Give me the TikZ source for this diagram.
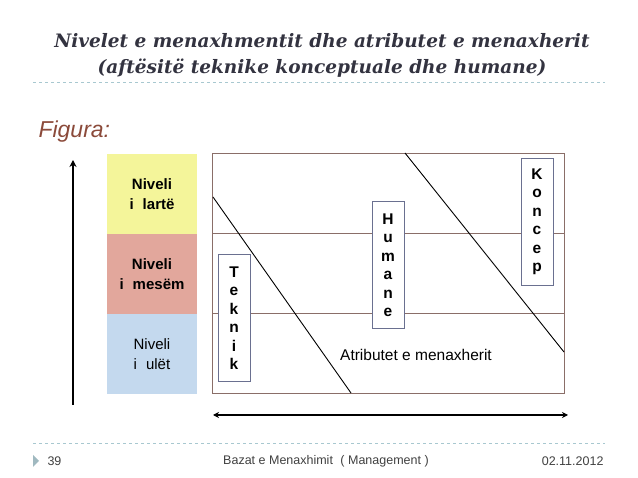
\documentclass[tikz,border=0pt]{standalone}
\usepackage{fontspec}
\setmainfont{Liberation Sans}
\newfontfamily\titlefont{DejaVu Serif}
\usetikzlibrary{arrows.meta}
\definecolor{titlec}{HTML}{333340}
\definecolor{figc}{HTML}{8B4A3A}
\definecolor{framec}{HTML}{8A6E68}
\definecolor{boxc}{HTML}{6A7090}
\definecolor{yel}{HTML}{F4F59A}
\definecolor{red}{HTML}{E2A79C}
\definecolor{blu}{HTML}{C4D9EE}
\definecolor{dashc}{HTML}{A8C8D0}
\tikzset{
 lvl/.style={minimum width=90pt,minimum height=80pt,inner sep=0pt,align=center,font=\fontsize{15}{20}\selectfont},
 vbox/.style={draw=boxc,line width=1pt,fill=white,minimum width=32pt,minimum height=127pt,inner sep=0pt,align=center,font=\bfseries\fontsize{15.5}{18.5}\selectfont},
 sep/.style={dashc,dashed,line width=0.6pt},
}
\begin{document}
\begin{tikzpicture}[x=1pt,y=-1pt]
\useasboundingbox (0,0) rectangle (638,478);
\node[font=\titlefont\bfseries\itshape\fontsize{18.5}{26}\selectfont,text=titlec,align=center] (title) at (322,55) {Nivelet e menaxhmentit dhe atributet e menaxherit\\(aftësitë teknike konceptuale dhe humane)};
\draw[sep] (33,82) -- (605,82);
\node[anchor=west,font=\itshape\fontsize{23}{26}\selectfont,text=figc] (fig) at (35,132) {Figura:};
\node[lvl,fill=yel,font=\bfseries\fontsize{15}{20}\selectfont] (l1) at (152,194) {Niveli\\i\hspace{0.6em}lartë};
\node[lvl,fill=red,font=\bfseries\fontsize{15}{20}\selectfont] (l2) at (152,274) {Niveli\\i\hspace{0.6em}mesëm};
\node[lvl,fill=blu] (l3) at (152,354) {Niveli\\i\hspace{0.6em}ulët};
\draw[framec,line width=0.7pt] (212,153) rectangle (564,393);
\draw[framec,line width=0.7pt] (212,233) -- (564,233) (212,313) -- (564,313);
\coordinate (a1) at (213,197); \coordinate (a2) at (351,393);
\coordinate (b1) at (405,153); \coordinate (b2) at (564,352);
\draw[line width=0.9pt] (a1) -- (a2);
\draw[line width=0.9pt] (b1) -- (b2);
\node[vbox] (t) at (234,318) {T\\e\\k\\n\\i\\k};
\node[vbox] (h) at (388,265) {H\\u\\m\\a\\n\\e};
\node[vbox] (k) at (537,222) {K\\o\\n\\c\\e\\p};
\node[font=\fontsize{15.5}{18}\selectfont] (attr) at (416,355) {Atributet e menaxherit};
\coordinate (h1) at (213,415); \coordinate (h2) at (568,415);
\draw[{Stealth[length=6pt,width=6pt]}-{Stealth[length=6pt,width=6pt]},line width=1.3pt] (h1) -- (h2);
\coordinate (v1) at (73,405); \coordinate (v2) at (73,160);
\draw[-{Stealth[length=7pt,width=7pt]},line width=1.3pt] (v1) -- (v2);
\draw[sep] (33,443) -- (605,443);
\fill[dashc!80!gray] (33,455) -- (39,461) -- (33,467) -- cycle;
\node[anchor=west,font=\fontsize{12.5}{14}\selectfont,text=black!75] (pg) at (44,461) {39};
\node[font=\fontsize{12.5}{14}\selectfont,text=black!75] (ft) at (326,461) {Bazat e Menaxhimit\hspace{0.6em}( Management )};
\node[anchor=east,font=\fontsize{12.5}{14}\selectfont,text=black!75] (dt) at (607,461) {02.11.2012};
\end{tikzpicture}
\end{document}
